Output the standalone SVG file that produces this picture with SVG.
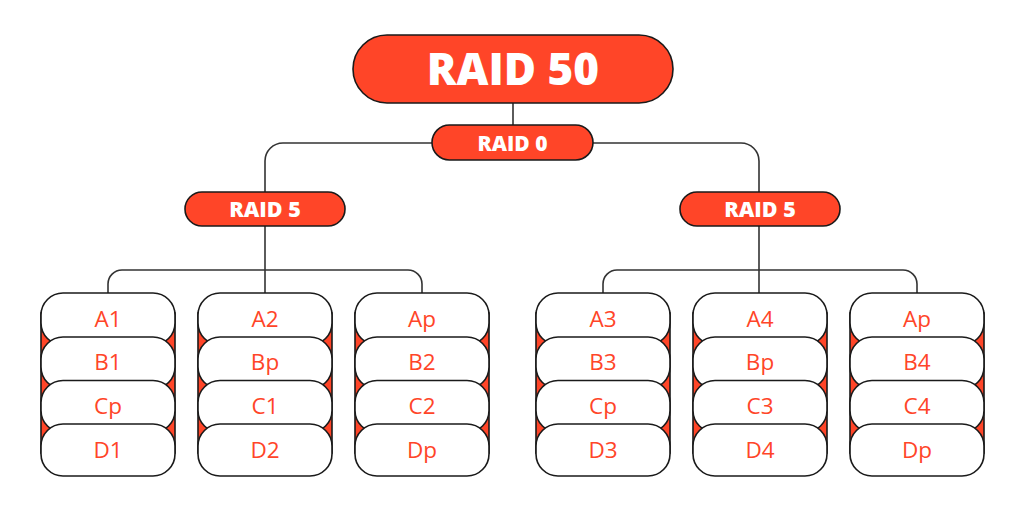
<svg xmlns="http://www.w3.org/2000/svg" width="1024" height="512" viewBox="0 0 1024 512">
<style>
.pill{fill:#FF4528;stroke:#1a1a1a;stroke-width:1.6}
.ptxt{fill:#fff;font-family:"Open Sans","Noto Sans",sans-serif;font-weight:800;text-anchor:middle}
.bg{fill:#FF4528;stroke:#1a1a1a;stroke-width:1.6}
.disk{fill:#fff;stroke:#1a1a1a;stroke-width:1.6}
.dtxt{fill:#FF4528;font-family:"Open Sans","Noto Sans",sans-serif;font-size:22.5px;text-anchor:middle}
.conn{fill:none;stroke:#333;stroke-width:1.6}
</style>
<rect width="1024" height="512" fill="#fff"/>
<g id="connectors">
<path class="conn" d="M513 103 V125"/>
<path class="conn" d="M432 143 H283 A18 18 0 0 0 265 161 V192"/>
<path class="conn" d="M593 143 H741 A18 18 0 0 1 759 161 V192"/>
<path class="conn" d="M265 226 V293"/>
<path class="conn" d="M265 270 H122 A14 14 0 0 0 108 284 V293"/>
<path class="conn" d="M265 270 H408 A14 14 0 0 1 422 284 V293"/>
<path class="conn" d="M759 226 V293"/>
<path class="conn" d="M759 270 H617 A14 14 0 0 0 603 284 V293"/>
<path class="conn" d="M759 270 H903 A14 14 0 0 1 917 284 V293"/>
</g>
<g id="raid50">
<rect class="pill" x="353" y="35" width="320" height="68" rx="34"/>
<text class="ptxt" x="513" y="84.5" font-size="44">RAID 50</text>
</g>
<g id="raid0">
<rect class="pill" x="432" y="125" width="161" height="35" rx="17.5"/>
<text class="ptxt" x="512.5" y="150.5" font-size="21">RAID 0</text>
</g>
<g id="raid5-left">
<rect class="pill" x="185" y="192" width="160" height="34" rx="17"/>
<text class="ptxt" x="265" y="216.5" font-size="21.5">RAID 5</text>
</g>
<g id="raid5-right">
<rect class="pill" x="680" y="192" width="160" height="34" rx="17"/>
<text class="ptxt" x="760" y="216.5" font-size="21.5">RAID 5</text>
</g>
<defs>
<g id="stack">
<rect class="bg" x="0" y="20" width="134" height="140"/>
<rect class="disk" x="0" y="0" width="134" height="52" rx="22"/>
<rect class="disk" x="0" y="44" width="134" height="52" rx="22"/>
<rect class="disk" x="0" y="87.5" width="134" height="52" rx="22"/>
<rect class="disk" x="0" y="131" width="134" height="52" rx="22"/>
</g>
</defs>
<g id="disk1">
<use href="#stack" x="41" y="293"/>
<text class="dtxt" x="108" y="327">A1</text><text class="dtxt" x="108" y="370">B1</text><text class="dtxt" x="108" y="414">Cp</text><text class="dtxt" x="108" y="458">D1</text>
</g>
<g id="disk2">
<use href="#stack" x="198" y="293"/>
<text class="dtxt" x="265" y="327">A2</text><text class="dtxt" x="265" y="370">Bp</text><text class="dtxt" x="265" y="414">C1</text><text class="dtxt" x="265" y="458">D2</text>
</g>
<g id="disk3">
<use href="#stack" x="355" y="293"/>
<text class="dtxt" x="422" y="327">Ap</text><text class="dtxt" x="422" y="370">B2</text><text class="dtxt" x="422" y="414">C2</text><text class="dtxt" x="422" y="458">Dp</text>
</g>
<g id="disk4">
<use href="#stack" x="536" y="293"/>
<text class="dtxt" x="603" y="327">A3</text><text class="dtxt" x="603" y="370">B3</text><text class="dtxt" x="603" y="414">Cp</text><text class="dtxt" x="603" y="458">D3</text>
</g>
<g id="disk5">
<use href="#stack" x="693" y="293"/>
<text class="dtxt" x="760" y="327">A4</text><text class="dtxt" x="760" y="370">Bp</text><text class="dtxt" x="760" y="414">C3</text><text class="dtxt" x="760" y="458">D4</text>
</g>
<g id="disk6">
<use href="#stack" x="850" y="293"/>
<text class="dtxt" x="917" y="327">Ap</text><text class="dtxt" x="917" y="370">B4</text><text class="dtxt" x="917" y="414">C4</text><text class="dtxt" x="917" y="458">Dp</text>
</g>
</svg>
